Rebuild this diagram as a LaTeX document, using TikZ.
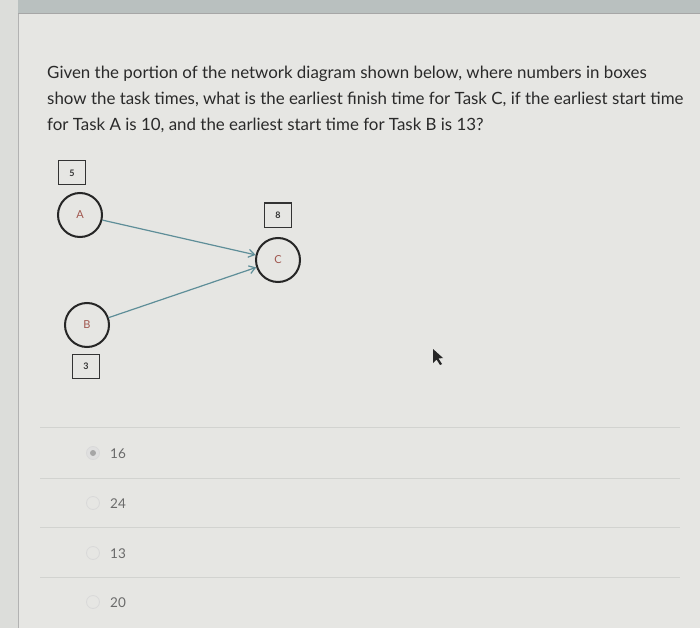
\documentclass[tikz,border=0pt]{standalone}
\usepackage{fontspec}
\setmainfont{Lato}
\usetikzlibrary{arrows.meta}
\definecolor{bg}{HTML}{E6E6E3}
\definecolor{topbar}{HTML}{B9C0BF}
\definecolor{leftbar}{HTML}{DCDDDA}
\definecolor{txt}{HTML}{2A2A2A}
\definecolor{edge}{HTML}{5E8E98}
\definecolor{lett}{HTML}{A0564E}
\definecolor{sep}{HTML}{D2D3D0}
\definecolor{opt}{HTML}{6A6A6A}
\tikzset{
  qline/.style={anchor=base west, inner sep=0pt, font=\fontsize{16.9}{20}\selectfont, text=txt},
  task/.style={circle, draw=black!85, line width=2pt, minimum size=44pt, inner sep=0pt, font=\fontsize{11}{13}\selectfont, text=lett},
  dur/.style={draw=black!80, line width=1pt, minimum width=27pt, minimum height=24pt, inner sep=0pt, font=\bfseries\fontsize{9}{11}\selectfont, text=black!80},
  link/.style={draw=edge, line width=1.2pt, -{Straight Barb[length=6pt,width=8pt]}},
  radio/.style={circle, draw=black!15, line width=0.8pt, minimum size=13pt, inner sep=0pt},
  optxt/.style={anchor=west, inner sep=0pt, font=\fontsize{13.5}{15}\selectfont, text=opt}
}
\begin{document}
\begin{tikzpicture}[x=1pt,y=-1pt]
\fill[bg] (0,0) rectangle (700,628);
\useasboundingbox (0,0) rectangle (700,628);
\fill[leftbar] (0,0) rectangle (18,628);
\fill[topbar] (18,0) rectangle (700,14);
\draw[black!35, line width=1pt] (18,14) -- (700,14);
\draw[black!30, line width=0.8pt] (18,14) -- (18,628);

\node[qline] (q1) at (47,79) {Given the portion of the network diagram shown below, where numbers in boxes};
\node[qline] (q2) at (47,105) {show the task times, what is the earliest finish time for Task C, if the earliest start time};
\node[qline] (q3) at (47,131) {for Task A is 10, and the earliest start time for Task B is 13?};

\node[dur] (d5) at (72,173) {5};
\node[task] (A) at (80,215) {A};
\node[dur] (d8) at (278,215) {8};
\node[task] (C) at (278,260) {C};
\node[task] (B) at (87,325) {B};
\node[dur] (d3) at (86,366) {3};

\draw[link] (A) -- (C);
\draw[link] (B) -- (C);

\draw[sep, line width=1pt] (40,427) -- (680,427);
\draw[sep, line width=1pt] (40,478) -- (680,478);
\draw[sep, line width=1pt] (40,527) -- (680,527);
\draw[sep, line width=1pt] (40,577) -- (680,577);

\node[radio, fill=black!12] (r1) at (93,453) {};
\fill[black!35] (r1) circle (3pt);
\node[optxt] (o1) at (110,454) {16};
\node[radio] (r2) at (93,503) {};
\node[optxt] (o2) at (110,504) {24};
\node[radio] (r3) at (93,553) {};
\node[optxt] (o3) at (110,554) {13};
\node[radio] (r4) at (93,602) {};
\node[optxt] (o4) at (110,603) {20};

\fill[black!85] (433,349) -- (433,363) -- (436.5,359.5) -- (440,365) -- (442,364) -- (438.5,358.5) -- (443,358) -- cycle;
\end{tikzpicture}
\end{document}
